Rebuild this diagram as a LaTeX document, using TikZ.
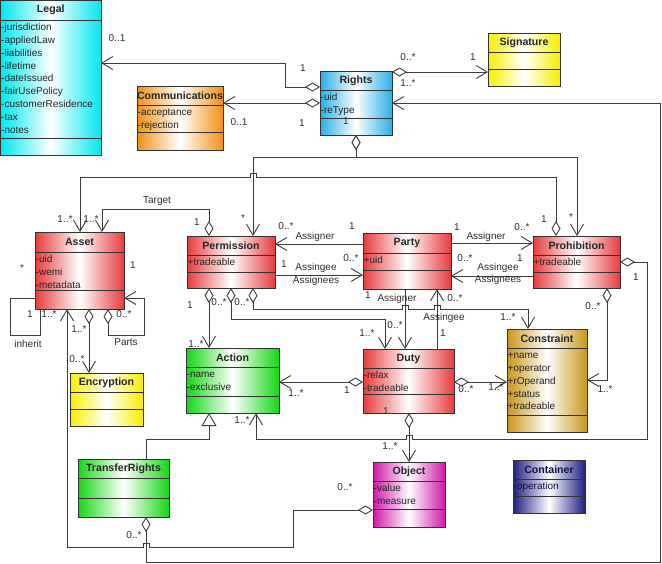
\documentclass[tikz,border=0pt]{standalone}
\usepackage{fontspec}
\setmainfont{Liberation Sans}
\usetikzlibrary{arrows.meta}
\definecolor{cyanL}{RGB}{0,232,240}
\definecolor{orangeC}{RGB}{240,145,20}
\definecolor{blueR}{RGB}{40,175,230}
\definecolor{yellowS}{RGB}{248,238,0}
\definecolor{redP}{RGB}{232,60,60}
\definecolor{greenA}{RGB}{20,215,20}
\definecolor{goldC}{RGB}{200,150,25}
\definecolor{magO}{RGB}{205,25,170}
\definecolor{navyC}{RGB}{30,30,130}
\definecolor{linec}{RGB}{60,60,60}
\definecolor{boxline}{RGB}{50,50,50}
\definecolor{lblc}{RGB}{45,45,45}
\tikzset{
  classbox/.style={draw=boxline, line width=0.8pt, inner sep=0pt, outer sep=0pt, rectangle},
  sepline/.style={draw=boxline, line width=0.8pt},
  titletext/.style={font=\fontsize{10.6}{12}\selectfont\bfseries, text=black!85, inner sep=0pt},
  attrtext/.style={font=\fontsize{10}{12.8}\selectfont, align=left, inner xsep=0.5pt, inner ysep=1.5pt, text=black!85},
  lbl/.style={font=\fontsize{10}{12}\selectfont, text=lblc, inner sep=0pt},
  conn/.style={draw=linec, line width=0.9pt},
  agg/.style={conn, {Diamond[fill=white,length=15pt,width=9pt]}-{Straight Barb[length=11pt,width=13pt]}},
  aggonly/.style={conn, {Diamond[fill=white,length=15pt,width=9pt]}-},
  nav/.style={conn, -{Straight Barb[length=11pt,width=13pt]}},
  gen/.style={conn, -{Triangle[fill=white,length=13pt,width=15pt]}},
}
\newcommand{\umlclass}[9]{%
  \node[classbox, left color=#8, right color=#8, middle color=white,
        minimum width={(#4-#2)*1pt}, minimum height={(#5-#3)*1pt}, anchor=north west] (#1) at (#2,#3) {};
  \draw[sepline] (#1.west |- 0,#6) -- (#1.east |- 0,#6);
  \draw[sepline] (#1.west |- 0,#7) -- (#1.east |- 0,#7);
  \node[titletext] (#1-title) at ({(#2+#4)/2},{(#3+#6)/2}) {#9};
}
\newcommand{\umlattrs}[4]{%
  \node[attrtext, anchor=north west] (#1-attrs) at (#2,#3) {\strut #4};
}
\begin{document}
\begin{tikzpicture}[x=1pt,y=-1pt]
\useasboundingbox (0,0) rectangle (662,563);

% ---------- classes ----------
\umlclass{Legal}{0.5}{0.5}{101}{155}{20}{138}{cyanL}{Legal}
\umlattrs{Legal}{0.5}{20}{-jurisdiction\\-appliedLaw\\-liabilities\\-lifetime\\-dateIssued\\-fairUsePolicy\\-customerResidence\\-tax\\-notes}
\umlclass{Comm}{137}{86}{223}{150}{105}{132}{orangeC}{Communications}
\umlattrs{Comm}{137}{105}{-acceptance\\-rejection}
\umlclass{Rights}{320}{71}{392}{135}{90}{118}{blueR}{Rights}
\umlattrs{Rights}{320}{90}{-uid\\-reType}
\umlclass{Signature}{488}{33}{560}{86}{52}{69}{yellowS}{Signature}
\umlclass{Asset}{35}{232}{124}{309}{252}{290}{redP}{Asset}
\umlattrs{Asset}{35}{252}{-uid\\-wemi\\-metadata}
\umlclass{Permission}{187}{236}{275}{288}{255}{272}{redP}{Permission}
\umlattrs{Permission}{187}{255}{+tradeable}
\umlclass{Party}{363}{233}{451}{289}{253}{270}{redP}{Party}
\umlattrs{Party}{363}{253}{+uid}
\umlclass{Prohibition}{533}{236}{620}{288}{255}{272}{redP}{Prohibition}
\umlattrs{Prohibition}{533}{255}{+tradeable}
\umlclass{Action}{186}{348}{279}{413}{367}{396}{greenA}{Action}
\umlattrs{Action}{186}{367}{-name\\-exclusive}
\umlclass{Encryption}{70}{373}{143}{426}{392}{409}{yellowS}{Encryption}
\umlclass{TransferRights}{78}{459}{169}{517}{478}{498}{greenA}{TransferRights}
\umlclass{Duty}{363}{349}{454}{413}{368}{394}{redP}{Duty}
\umlattrs{Duty}{363}{368}{-relax\\-tradeable}
\umlclass{Constraint}{507}{329}{587}{432}{348}{415}{goldC}{Constraint}
\umlattrs{Constraint}{507}{348}{+name\\+operator\\+rOperand\\+status\\+tradeable}
\umlclass{Object}{373}{462}{445}{527}{481}{509}{magO}{Object}
\umlattrs{Object}{373}{481}{-value\\-measure}
\umlclass{Container}{513}{460}{585}{513}{479}{496}{navyC}{\textcolor{navyC!55!black}{Container}}
\umlattrs{Container}{513}{479}{\textcolor{navyC!55!black}{-operation}}

% ---------- connectors ----------
% Rights -> Legal
\draw[agg] (Rights.west |- 0,87) -- (285,87) -- (285,63) -- (Legal.east |- 0,63);
% Rights -> Communications
\draw[agg] (Rights.west |- 0,103) -- (Comm.east |- 0,103);
% Rights -> Signature
\draw[agg] (Rights.east |- 0,72) -- (Signature.west |- 0,72);
% Rights -> Permission / Prohibition
\draw[agg] (Rights.south) -- (356,157) -- (253,157) -- (Permission.north -| 253,0);
\draw[agg] (Rights.south) -- (356,157) -- (577,157) -- (Prohibition.north -| 577,0);
% Prohibition -> Asset (target)
\draw[agg] (Prohibition.north -| 556,0) -- (556,177) -- (256,177) -- (256,173.5) -- (250,173.5) -- (250,177) -- (80,177) -- (Asset.north -| 80,0);
% Permission -> Asset (Target)
\draw[agg] (Permission.north -| 209,0) -- (209,209) -- (102,209) -- (Asset.north -| 102,0);
% Asset inherit loop
\draw[conn] (Asset.west |- 0,298) -- (10,298) -- (10,335) -- (40,335) -- (Asset.south -| 40,0);
% Asset Parts loop
\draw[agg] (Asset.south -| 108,0) -- (108,335) -- (144,335) -- (144,298) -- (Asset.east |- 0,298);
% Asset -> Encryption
\draw[agg] (Asset.south -| 89,0) -- (Encryption.north -| 89,0);
% Object -> Asset
\draw[agg] (Object.west |- 0,510) -- (293,510) -- (293,547) -- (149,547) -- (149,543.5) -- (143,543.5) -- (143,547) -- (67,547) -- (Asset.south -| 67,0);
% TransferRights -> Rights
\draw[agg] (TransferRights.south -| 146,0) -- (146,562) -- (660,562) -- (660,103) -- (Rights.east |- 0,103);
% TransferRights generalizes Action
\draw[gen] (TransferRights.north -| 146,0) -- (146,439) -- (209,439) -- (Action.south -| 209,0);
% Prohibition -> Action
\draw[agg] (Prohibition.east |- 0,262) -- (647,262) -- (647,439) -- (412,439) -- (412,435.5) -- (406,435.5) -- (406,439) -- (256,439) -- (Action.south -| 256,0);
% Duty -> Object
\draw[agg] (Duty.south -| 409,0) -- (Object.north -| 409,0);
% Duty -> Action
\draw[agg] (Duty.west |- 0,382) -- (Action.east |- 0,382);
% Duty -> Constraint
\draw[agg] (Duty.east |- 0,382) -- (Constraint.west |- 0,382);
% Prohibition -> Constraint
\draw[agg] (Prohibition.south -| 607,0) -- (607,380) -- (Constraint.east |- 0,380);
% Permission -> Action
\draw[agg] (Permission.south -| 209,0) -- (Action.north -| 209,0);
% Permission -> Duty
\draw[agg] (Permission.south -| 231,0) -- (231,319) -- (385,319) -- (Duty.north -| 385,0);
% Permission -> Constraint
\draw[agg] (Permission.south -| 253,0) -- (253,309) -- (402,309) -- (402,305.5) -- (408,305.5) -- (408,309) -- (434,309) -- (434,305.5) -- (440,305.5) -- (440,309) -- (528,309) -- (Constraint.north -| 528,0);
% Party <-> Permission
\draw[nav] (Party.west |- 0,244) -- (Permission.east |- 0,244);
\draw[nav] (Permission.east |- 0,275) -- (Party.west |- 0,275);
% Party <-> Prohibition
\draw[nav] (Party.east |- 0,243) -- (Prohibition.west |- 0,243);
\draw[nav] (Prohibition.west |- 0,276) -- (Party.east |- 0,276);
% Party <-> Duty
\draw[nav] (Party.south -| 405,0) -- (Duty.north -| 405,0);
\draw[nav] (Duty.north -| 437,0) -- (Party.south -| 437,0);

% ---------- labels ----------
\node[lbl] (m1) at (117,38) {0..1};
\node[lbl] (m2) at (303,68) {1};
\node[lbl] (m3) at (239,122) {0..1};
\node[lbl] (m4) at (302,123) {1};
\node[lbl] (m5) at (408,57) {0..*};
\node[lbl] (m6) at (408,83) {1..*};
\node[lbl] (m7) at (473,57) {1};
\node[lbl] (m8) at (346,121) {1};
\node[lbl] (m9) at (243,218) {*};
\node[lbl] (m10) at (571,217) {*};
\node[lbl] (m11) at (544,219) {1};
\node[lbl] (m12) at (65,219) {1..*};
\node[lbl] (m13) at (91,219) {1..*};
\node[lbl] (t1) at (157,201) {Target};
\node[lbl] (m14) at (197,222) {1};
\node[lbl] (m15) at (22,268) {*};
\node[lbl] (m16) at (133,265) {1};
\node[lbl] (m17) at (30,314) {1};
\node[lbl] (m18) at (49,314) {1..*};
\node[lbl] (t2) at (28,344) {inherit};
\node[lbl] (m19) at (124,314) {0..*};
\node[lbl] (t3) at (126,342) {Parts};
\node[lbl] (m20) at (79,329) {1..*};
\node[lbl] (m21) at (77,359) {0..*};
\node[lbl] (m22) at (190,305) {1};
\node[lbl] (m23) at (219,302) {0..*};
\node[lbl] (m24) at (242,302) {0..*};
\node[lbl] (m25) at (196,344) {1..*};
\node[lbl] (m26) at (286,226) {0..*};
\node[lbl] (t4) at (315,237) {Assigner};
\node[lbl] (m27) at (352,226) {1};
\node[lbl] (m28) at (284,264) {1};
\node[lbl] (t5) at (316,268) {Assingee};
\node[lbl] (t6) at (316,281) {Assignees};
\node[lbl] (m29) at (351,258) {0..*};
\node[lbl] (m30) at (457,227) {1};
\node[lbl] (t7) at (486,237) {Assigner};
\node[lbl] (m31) at (522,227) {0..*};
\node[lbl] (m32) at (465,258) {0..*};
\node[lbl] (m33) at (520,258) {1};
\node[lbl] (t8) at (498,268) {Assingee};
\node[lbl] (t9) at (498,280) {Assignees};
\node[lbl] (m34) at (368,295) {1};
\node[lbl] (t10) at (397,299) {Assigner};
\node[lbl] (m35) at (395,325) {0..*};
\node[lbl] (m36) at (455,298) {0..*};
\node[lbl] (t11) at (444,318) {Assingee};
\node[lbl] (m37) at (443,333) {1};
\node[lbl] (m38) at (367,333) {1..*};
\node[lbl] (m39) at (508,317) {1..*};
\node[lbl] (m40) at (593,306) {0..*};
\node[lbl] (m41) at (605,389) {1..*};
\node[lbl] (m42) at (636,277) {1};
\node[lbl] (m43) at (347,390) {1};
\node[lbl] (m44) at (296,393) {1..*};
\node[lbl] (m45) at (466,389) {0..*};
\node[lbl] (m46) at (496,387) {1..*};
\node[lbl] (m47) at (242,420) {1..*};
\node[lbl] (m48) at (386,411) {1};
\node[lbl] (m49) at (390,446) {1..*};
\node[lbl] (m50) at (345,487) {0..*};
\node[lbl] (m51) at (134,535) {0..*};
\end{tikzpicture}
\end{document}
